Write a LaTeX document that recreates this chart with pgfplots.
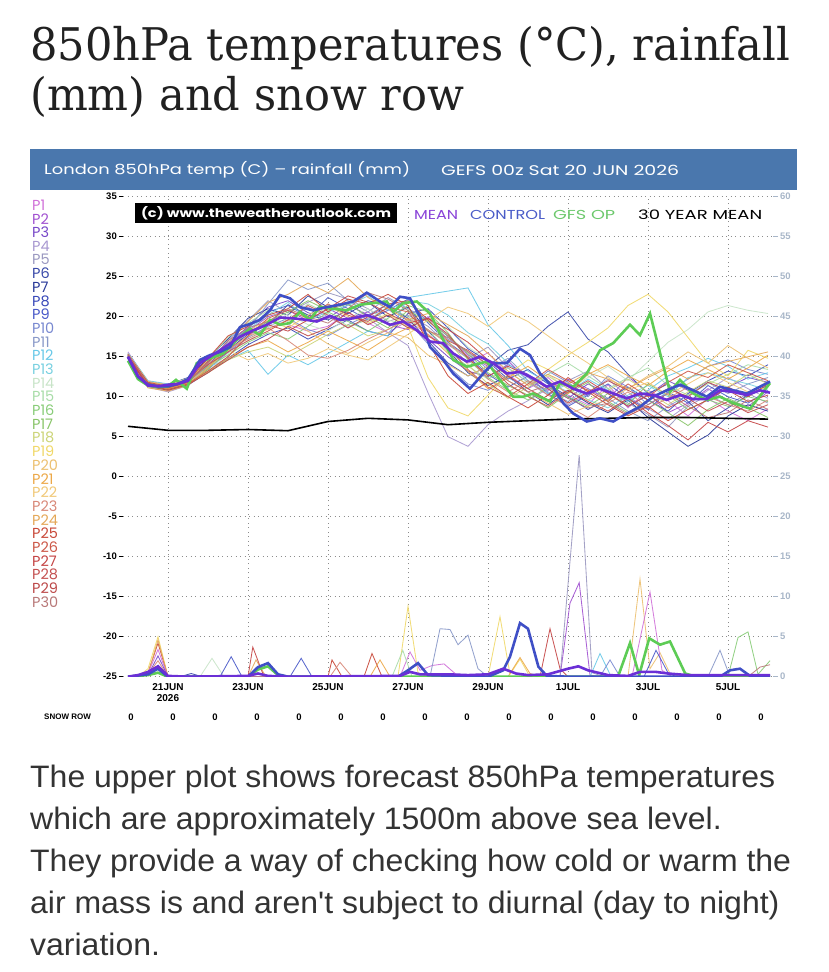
\documentclass[border=0pt]{standalone}
\usepackage{fontspec}
\setmainfont{Liberation Sans}
\newfontfamily\parafont{Liberation Sans}
\newfontfamily\titlefont{DejaVu Serif}
\newfontfamily\gothic{Poppins}
\usepackage{graphicx}
\usepackage{pgfplots}
\pgfplotsset{compat=1.18}

\definecolor{hdr}{HTML}{4A77AD}
\definecolor{rtick}{HTML}{A8B6C8}
\definecolor{cmean}{HTML}{6B2FD6}
\definecolor{cctrl}{HTML}{3F4FC6}
\definecolor{cgfs}{HTML}{5DCC55}
\definecolor{tmean}{HTML}{8A44D8}
\definecolor{tctrl}{HTML}{4A5CC8}
\definecolor{tgfs}{HTML}{6CC86C}
\definecolor{P1}{HTML}{D070D8}
\definecolor{P2}{HTML}{A050D0}
\definecolor{P3}{HTML}{7848C8}
\definecolor{P4}{HTML}{A898D0}
\definecolor{P5}{HTML}{9A98C0}
\definecolor{P6}{HTML}{3848A8}
\definecolor{P7}{HTML}{283898}
\definecolor{P8}{HTML}{3848B8}
\definecolor{P9}{HTML}{4858C8}
\definecolor{P10}{HTML}{7888D0}
\definecolor{P11}{HTML}{8898C8}
\definecolor{P12}{HTML}{68C8E8}
\definecolor{P13}{HTML}{78D0E0}
\definecolor{P14}{HTML}{C8E4C8}
\definecolor{P15}{HTML}{A8DCA8}
\definecolor{P16}{HTML}{88CC78}
\definecolor{P17}{HTML}{88C468}
\definecolor{P18}{HTML}{CCD478}
\definecolor{P19}{HTML}{F0D868}
\definecolor{P20}{HTML}{ECC070}
\definecolor{P21}{HTML}{ECA848}
\definecolor{P22}{HTML}{F0C878}
\definecolor{P23}{HTML}{D88878}
\definecolor{P24}{HTML}{E4A858}
\definecolor{P25}{HTML}{C84838}
\definecolor{P26}{HTML}{CC5848}
\definecolor{P27}{HTML}{C44444}
\definecolor{P28}{HTML}{C45050}
\definecolor{P29}{HTML}{BC4848}
\definecolor{P30}{HTML}{B87878}

\newsavebox\fitbox
\newcommand\fitw[2]{\sbox\fitbox{#2}\pgfmathsetmacro\fitsx{#1/\the\wd\fitbox}\scalebox{\fitsx}[1]{\usebox\fitbox}}
\newsavebox\titlebox
\newsavebox\parabox
\newcommand\pfont{\parafont\fontsize{31}{36}\selectfont}

\pgfplotsset{mem/.style={line width=0.85pt, opacity=0.9}}
\newcommand\mem[2]{\addplot[#1,mem] table[header=false,row sep=\\,y index=0,x expr=\coordindex*0.5]{#2};}

\begin{document}
\sbox\titlebox{\titlefont\fontsize{45}{50}\selectfont 850hPa temperatures (°C), rainfall}%
\pgfmathsetmacro\tsx{760/\the\wd\titlebox}%
\sbox\parabox{\pfont The upper plot shows forecast 850hPa temperatures}%
\pgfmathsetmacro\psx{745/\the\wd\parabox}%
\begin{tikzpicture}
\useasboundingbox (0pt,0pt) rectangle (828pt,-972pt);

\begin{scope}[x=1pt,y=1pt]
% title
\node[anchor=base west, inner sep=0, text=black!87] at (30,-60) {\scalebox{\tsx}[1]{\titlefont\fontsize{45}{50}\selectfont 850hPa temperatures (°C), rainfall}};
\node[anchor=base west, inner sep=0, text=black!87] at (30,-110) {\scalebox{\tsx}[1]{\titlefont\fontsize{45}{50}\selectfont (mm) and snow row}};
% header bar
\fill[hdr] (30,-149) rectangle (797,-190);
\node[anchor=west, inner sep=0, text=white] at (44,-170) {\fitw{366}{\gothic\fontsize{14}{14}\selectfont London 850hPa temp (C) – rainfall (mm)}};
\node[anchor=west, inner sep=0, text=white] at (441,-170) {\fitw{238}{\gothic\fontsize{14}{14}\selectfont GEFS 00z Sat 20 JUN 2026}};
\end{scope}

% temperature axis
\begin{axis}[
  at={(123pt,-676.7pt)}, anchor=south west,
  scale only axis, width=650pt, height=480pt,
  xmin=-0.125, xmax=16.125, ymin=-25, ymax=35,
  axis x line*=bottom, axis y line*=left,
  axis line style={draw=none},
  ytick={-25,-20,...,35},
  xtick={1,3,5,7,9,11,13,15},
  xticklabels={{21JUN\\2026},23JUN,25JUN,27JUN,29JUN,1JUL,3JUL,5JUL},
  xticklabel style={align=center, font=\bfseries\fontsize{10}{10.5}\selectfont, inner sep=1pt, yshift=-2pt},
  yticklabel style={font=\bfseries\fontsize{9.5}{10}\selectfont, inner sep=2pt},
  /pgf/number format/assume math mode=true,
  xtick style={draw=none},
  ytick style={black, line width=1pt},
  tick align=outside,
  major tick length=4pt,
  grid=major,
  major grid style={black!45, dash pattern=on 1.2pt off 3.3pt, line width=0.9pt},
]
\mem{P1}{15.6\\11.8\\11.2\\12.2\\14.5\\16.0\\17.5\\19.5\\19.0\\18.2\\18.8\\20.5\\19.2\\18.0\\19.5\\17.8\\16.0\\14.2\\15.5\\12.8\\11.0\\12.4\\10.2\\9.0\\11.5\\8.6\\10.8\\9.5\\7.6\\9.8\\8.2\\7.0\\8.5\\}
\mem{P2}{15.0\\11.4\\10.9\\11.6\\13.8\\15.5\\18.2\\20.0\\20.8\\19.5\\21.0\\19.8\\20.6\\19.0\\18.4\\20.0\\17.5\\15.2\\13.8\\14.5\\12.0\\10.8\\12.2\\11.0\\9.6\\12.5\\10.5\\8.0\\9.2\\11.0\\9.5\\8.8\\10.6\\}
\mem{P3}{15.3\\11.6\\11.4\\11.9\\14.0\\16.5\\18.8\\21.2\\22.0\\20.5\\19.8\\21.5\\20.2\\21.0\\19.0\\17.2\\15.0\\13.2\\12.5\\14.0\\12.8\\11.2\\9.8\\11.6\\10.4\\8.8\\10.2\\12.0\\10.8\\9.4\\11.2\\12.4\\11.8\\}
\mem{P4}{14.8\\11.2\\10.6\\11.4\\13.2\\15.0\\17.6\\18.5\\19.6\\21.2\\20.0\\18.6\\19.8\\18.0\\16.4\\10.5\\5.0\\3.8\\6.5\\8.2\\9.5\\11.0\\9.0\\10.4\\12.2\\10.0\\8.5\\7.2\\9.0\\10.8\\12.4\\11.0\\9.8\\}
\mem{P5}{15.2\\11.5\\11.0\\12.0\\14.2\\17.0\\19.5\\22.0\\20.5\\21.8\\23.0\\22.2\\21.0\\19.4\\20.2\\18.8\\16.5\\14.8\\16.2\\13.6\\11.8\\10.2\\12.0\\13.2\\11.0\\9.2\\7.8\\6.2\\8.8\\10.2\\9.0\\10.4\\9.2\\}
\mem{P6}{15.1\\11.7\\11.3\\11.8\\13.6\\15.8\\17.8\\19.0\\21.5\\20.2\\19.6\\20.8\\22.0\\21.4\\19.8\\17.0\\14.2\\12.6\\13.8\\15.8\\16.5\\18.8\\20.6\\17.2\\15.6\\12.8\\10.4\\11.6\\9.4\\7.0\\8.6\\10.2\\11.4\\}
\mem{P7}{15.4\\11.9\\11.5\\12.4\\14.8\\17.2\\19.8\\21.0\\20.2\\22.6\\21.2\\20.4\\21.8\\20.0\\21.2\\18.2\\15.8\\13.0\\11.4\\12.6\\10.6\\9.0\\10.8\\9.2\\8.0\\9.6\\7.4\\5.6\\3.8\\5.2\\7.6\\9.0\\8.2\\}
\mem{P8}{14.9\\11.3\\10.8\\11.5\\13.0\\14.8\\16.5\\17.8\\18.6\\17.2\\18.4\\19.6\\18.2\\17.6\\20.4\\21.0\\18.6\\16.0\\14.4\\12.2\\13.4\\11.6\\10.0\\8.4\\9.8\\11.2\\9.6\\8.2\\10.4\\12.0\\13.2\\12.6\\14.0\\}
\mem{P9}{15.2\\11.6\\11.1\\11.8\\14.0\\16.2\\18.6\\20.6\\21.4\\20.0\\22.4\\21.0\\19.6\\20.8\\22.2\\19.2\\16.8\\15.0\\12.8\\11.2\\12.6\\10.4\\8.8\\10.2\\11.6\\9.8\\8.4\\10.6\\9.2\\11.4\\10.0\\9.2\\10.8\\}
\mem{P10}{15.0\\11.4\\11.0\\11.7\\13.4\\15.6\\17.4\\18.8\\19.8\\18.4\\17.6\\19.0\\20.2\\21.6\\19.4\\16.6\\13.8\\11.6\\10.8\\12.4\\11.0\\13.2\\11.8\\10.0\\12.6\\11.2\\9.0\\10.6\\12.2\\13.8\\14.6\\13.4\\12.8\\}
\mem{P11}{15.3\\11.8\\11.2\\12.1\\14.4\\16.8\\18.4\\21.6\\24.6\\23.4\\24.2\\22.0\\20.6\\22.4\\21.0\\19.6\\17.2\\15.6\\13.4\\14.8\\12.4\\10.6\\9.4\\11.0\\9.8\\8.2\\7.0\\8.8\\10.2\\11.8\\10.4\\11.6\\12.4\\}
\mem{P12}{15.5\\12.0\\11.6\\12.3\\13.8\\14.6\\15.8\\12.8\\15.2\\14.0\\15.4\\16.8\\18.2\\17.6\\22.4\\22.8\\23.2\\23.6\\19.0\\16.4\\13.2\\11.8\\10.6\\12.2\\10.8\\9.4\\10.8\\12.6\\13.6\\14.8\\13.8\\12.2\\13.0\\}
\mem{P13}{15.0\\11.6\\11.0\\11.8\\13.6\\16.0\\18.4\\20.2\\21.8\\19.6\\20.6\\21.4\\22.6\\20.8\\22.0\\21.6\\20.2\\18.0\\16.6\\14.2\\12.0\\10.4\\11.6\\9.6\\8.6\\10.2\\11.4\\10.0\\12.4\\13.0\\12.2\\11.6\\10.8\\}
\mem{P14}{14.7\\11.2\\10.8\\11.5\\13.2\\15.4\\17.0\\18.6\\20.4\\19.0\\18.2\\19.8\\21.0\\19.6\\18.8\\17.4\\18.8\\16.2\\14.6\\13.0\\11.6\\12.8\\11.0\\12.4\\13.8\\12.0\\14.4\\16.8\\18.4\\20.6\\21.4\\20.8\\20.4\\}
\mem{P15}{15.1\\11.5\\11.1\\11.9\\14.6\\17.4\\19.2\\20.8\\19.4\\21.6\\20.4\\18.8\\19.6\\21.2\\20.0\\18.4\\15.6\\13.8\\12.2\\13.6\\11.8\\12.8\\14.2\\12.6\\11.0\\12.4\\13.6\\11.4\\10.2\\11.6\\12.8\\14.0\\13.4\\}
\mem{P16}{15.2\\11.7\\11.3\\12.0\\13.8\\15.2\\16.8\\18.0\\17.2\\18.8\\20.6\\19.4\\18.2\\19.8\\21.4\\20.6\\18.0\\14.6\\12.4\\10.8\\9.6\\11.2\\10.0\\8.8\\10.4\\9.0\\11.6\\10.2\\8.4\\9.6\\8.8\\10.0\\9.4\\}
\mem{P17}{15.0\\11.3\\10.9\\11.6\\13.4\\16.4\\18.0\\19.4\\20.6\\22.0\\20.8\\21.6\\20.0\\18.6\\20.8\\19.4\\17.6\\15.4\\13.0\\11.4\\10.2\\8.6\\10.4\\11.8\\9.4\\8.0\\9.6\\8.0\\6.4\\8.4\\9.8\\8.6\\7.4\\}
\mem{P18}{14.9\\11.4\\11.0\\11.6\\13.0\\14.6\\15.6\\16.2\\15.0\\16.4\\17.8\\19.0\\17.6\\18.4\\19.6\\18.2\\17.0\\14.0\\11.6\\9.8\\11.2\\12.6\\11.0\\9.6\\10.8\\12.2\\10.6\\9.0\\10.6\\12.0\\11.2\\12.8\\11.6\\}
\mem{P19}{15.3\\11.8\\11.4\\12.2\\14.2\\16.6\\18.2\\19.6\\18.6\\20.2\\21.4\\20.0\\19.2\\20.4\\18.8\\12.4\\8.6\\7.6\\10.2\\12.8\\14.6\\13.4\\15.2\\16.8\\18.6\\21.4\\22.8\\20.6\\17.4\\14.2\\12.6\\15.8\\14.8\\}
\mem{P20}{15.1\\11.6\\11.1\\11.8\\13.6\\15.8\\17.6\\18.4\\19.6\\18.2\\16.6\\15.4\\16.8\\18.0\\17.4\\15.2\\14.0\\12.6\\13.8\\12.0\\10.6\\9.2\\7.8\\8.8\\9.6\\11.0\\12.6\\13.8\\15.6\\14.2\\16.4\\14.8\\13.6\\}
\mem{P21}{15.0\\11.5\\11.0\\11.7\\13.2\\14.8\\16.2\\17.0\\15.6\\16.8\\18.2\\17.0\\15.8\\17.4\\18.6\\17.8\\15.4\\13.2\\11.0\\12.4\\13.8\\12.0\\10.4\\12.8\\14.0\\12.6\\11.4\\13.2\\14.6\\13.4\\12.2\\13.6\\15.2\\}
\mem{P22}{15.4\\11.9\\11.5\\12.3\\14.6\\15.8\\14.6\\15.4\\14.2\\14.8\\16.0\\15.2\\14.6\\16.2\\17.8\\19.6\\21.2\\20.4\\18.8\\20.6\\19.4\\17.6\\15.8\\14.2\\12.4\\10.8\\11.8\\10.2\\11.6\\13.0\\11.8\\10.6\\11.2\\}
\mem{P23}{15.2\\11.6\\11.2\\11.9\\14.0\\16.0\\17.2\\18.6\\17.0\\15.2\\14.8\\15.8\\17.2\\18.4\\19.8\\18.4\\16.6\\15.0\\12.2\\10.6\\12.0\\10.2\\8.8\\7.4\\9.2\\10.6\\8.6\\9.8\\11.2\\10.0\\9.0\\8.2\\9.6\\}
\mem{P24}{14.8\\11.1\\10.7\\11.4\\13.6\\16.6\\19.4\\21.8\\22.8\\24.2\\23.0\\24.8\\22.4\\21.0\\19.6\\20.4\\19.0\\17.6\\15.4\\13.2\\11.4\\12.8\\11.6\\13.0\\12.2\\11.0\\12.4\\13.6\\12.2\\13.8\\14.4\\15.0\\15.6\\}
\mem{P25}{15.3\\11.7\\11.2\\12.0\\14.8\\17.6\\18.8\\20.2\\21.0\\22.8\\20.6\\22.2\\21.6\\22.8\\21.4\\16.8\\12.6\\10.4\\11.8\\10.0\\8.6\\10.2\\12.4\\10.6\\9.0\\7.6\\8.8\\7.0\\8.4\\9.6\\11.2\\10.0\\11.6\\}
\mem{P26}{15.0\\11.4\\10.9\\11.6\\13.2\\15.0\\17.6\\19.8\\20.8\\19.8\\21.6\\20.2\\19.4\\21.2\\20.6\\17.6\\16.2\\13.4\\11.2\\10.0\\11.6\\13.4\\12.0\\10.8\\9.4\\11.6\\10.0\\11.8\\13.2\\12.4\\14.0\\13.0\\12.0\\}
\mem{P27}{15.1\\11.5\\11.1\\11.8\\14.4\\16.4\\18.0\\19.0\\18.2\\19.6\\21.0\\22.6\\21.8\\20.4\\19.2\\19.8\\18.4\\16.8\\14.6\\12.6\\11.0\\9.6\\10.8\\9.4\\8.2\\9.8\\8.0\\6.4\\4.6\\6.8\\5.6\\7.0\\6.2\\}
\mem{P28}{15.2\\11.8\\11.3\\12.1\\14.0\\15.6\\17.0\\18.2\\19.6\\21.4\\20.2\\18.6\\20.0\\21.6\\22.0\\19.6\\17.0\\15.8\\14.0\\11.6\\10.0\\8.8\\10.6\\12.0\\10.4\\8.8\\10.2\\8.6\\9.8\\8.2\\9.4\\8.0\\9.0\\}
\mem{P29}{14.9\\11.3\\10.8\\11.5\\13.0\\14.6\\16.2\\17.2\\18.8\\17.6\\18.6\\20.6\\19.0\\20.2\\18.6\\19.8\\17.8\\14.8\\12.6\\13.8\\12.6\\11.0\\9.2\\10.6\\12.0\\10.8\\9.6\\11.0\\10.0\\11.8\\10.8\\9.4\\10.2\\}
\mem{P30}{15.3\\11.6\\11.2\\11.9\\14.2\\17.0\\18.6\\19.4\\21.0\\20.0\\19.2\\21.0\\23.0\\22.2\\20.8\\18.2\\17.4\\15.6\\14.0\\12.0\\10.6\\11.4\\9.8\\8.6\\9.2\\7.8\\9.0\\10.4\\8.8\\7.4\\8.0\\9.6\\8.4\\}
% 30 year mean
\addplot[black, line width=1.6pt] coordinates {(0,6.3)(1,5.8)(2,5.8)(3,5.9)(4,5.75)(5,6.9)(6,7.3)(7,7.1)(8,6.5)(9,6.8)(10,7.0)(11,7.2)(12,7.3)(13,7.4)(14,7.4)(15,7.3)(16,7.2)};
% GFS OP
\addplot[cgfs, line width=2.6pt] coordinates {(0,14.5)(0.25,12.2)(0.5,11.4)(0.75,11.2)(1,11.3)(1.2,12.1)(1.47,11.0)(1.72,14.2)(2.05,14.8)(2.38,15.4)(2.72,17.1)(3.05,18.5)(3.3,17.7)(3.55,19.6)(3.8,19.0)(4.05,19.2)(4.3,20.6)(4.55,19.6)(4.8,21.25)(5.13,21.0)(5.47,20.8)(5.8,21.5)(6.13,21.7)(6.47,21.9)(6.63,20.6)(6.88,21.7)(7.22,21.9)(7.55,20.4)(7.88,17.1)(8.13,14.6)(8.47,13.75)(8.97,14.4)(9.3,12.1)(9.63,10.0)(9.88,10.0)(10.13,10.4)(10.55,9.4)(10.8,11.7)(11.13,11.25)(11.47,12.9)(11.8,15.8)(12.13,16.7)(12.55,19.0)(12.8,17.7)(13.05,20.4)(13.55,10.6)(13.8,12.1)(14.13,10.4)(14.47,9.6)(14.8,10.0)(15.13,9.2)(15.55,8.5)(16.05,11.7)};
% control
\addplot[cctrl, line width=2.6pt] coordinates {(0,15.0)(0.25,12.5)(0.5,11.5)(0.75,11.3)(1,11.3)(1.25,11.6)(1.5,12.2)(1.8,14.6)(2.05,15.2)(2.3,15.6)(2.55,16.2)(2.8,18.7)(3.0,19.0)(3.3,19.6)(3.55,20.8)(3.8,22.7)(4.05,22.3)(4.3,21.2)(4.63,20.8)(4.97,21.2)(5.3,21.5)(5.63,21.9)(5.97,23.0)(6.3,21.9)(6.55,21.2)(6.8,22.5)(7.05,22.3)(7.3,20.0)(7.55,16.2)(7.88,14.6)(8.13,12.9)(8.55,11.0)(8.88,12.9)(9.13,14.2)(9.47,14.2)(9.8,16.0)(10.05,15.2)(10.3,12.9)(10.63,11.2)(10.88,9.2)(11.13,7.9)(11.47,6.9)(11.8,7.3)(12.13,6.9)(12.47,7.9)(12.8,8.75)(13.13,10.0)(13.47,10.8)(13.8,11.5)(14.13,10.8)(14.47,10.0)(14.8,11.25)(15.13,10.8)(15.47,10.4)(15.8,11.25)(16.05,11.9)};
% mean
\addplot[cmean, line width=2.6pt] coordinates {(0,15.0)(0.25,12.6)(0.5,11.4)(0.75,11.3)(1,11.5)(1.25,11.6)(1.5,12.0)(1.8,14.2)(2.3,15.8)(2.8,17.5)(3.13,18.3)(3.47,19.0)(3.8,19.9)(4.13,19.8)(4.47,19.6)(4.72,19.4)(5.05,20.1)(5.3,19.6)(5.63,19.8)(5.97,20.2)(6.3,19.6)(6.55,19.0)(6.88,19.4)(7.22,18.3)(7.55,16.9)(7.88,16.7)(8.13,15.4)(8.47,14.4)(8.8,15.0)(9.13,14.2)(9.47,12.9)(9.8,13.1)(10.13,12.3)(10.47,11.25)(10.8,11.9)(11.13,11.0)(11.47,10.4)(11.8,11.0)(12.13,10.4)(12.47,9.8)(12.8,10.4)(13.13,10.2)(13.47,9.6)(13.8,10.2)(14.13,9.7)(14.47,9.7)(14.8,10.8)(15.13,10.6)(15.47,10.2)(15.8,10.8)(16.05,10.5)};
\end{axis}

% rainfall axis (right)
\begin{axis}[
  at={(123pt,-676.7pt)}, anchor=south west,
  scale only axis, width=650pt, height=480pt,
  xmin=-0.125, xmax=16.125, ymin=0, ymax=60,
  axis x line=none, axis y line*=right,
  axis line style={draw=none},
  ytick={0,5,...,60},
  yticklabel style={font=\bfseries\fontsize{9.5}{10}\selectfont, text=rtick, inner sep=2pt},
  /pgf/number format/assume math mode=true,
  ytick style={rtick, line width=1pt},
  tick align=outside,
  major tick length=5pt,
]
\addplot[P19,mem] coordinates {(0.25,0)(0.5,1.0)(0.75,5.0)(1.0,0)(6.75,0)(7.0,8.8)(7.25,0.5)(7.5,0)(9.0,0)(9.3,7.5)(9.55,0.3)(9.8,2.2)(10.05,0)};
\addplot[P20,mem] coordinates {(12.5,0)(12.8,12.2)(13.05,1.0)(13.3,3.0)(13.55,0.4)(13.8,0)};
\addplot[P25,mem] coordinates {(0.5,0.5)(0.75,4.2)(1.0,0)(5.0,0)(5.1,2.1)(5.35,0)(5.9,0)(6.1,2.9)(6.35,0)};
\addplot[P24,mem] coordinates {(0.5,0.3)(0.75,4.6)(1.0,0)(3.0,0)(3.2,2.1)(3.45,0)};
\addplot[P27,mem] coordinates {(3.0,0)(3.12,3.7)(3.4,0)(10.3,0)(10.55,6.0)(10.8,1.0)(11.0,0)};
\addplot[P1,mem] coordinates {(0.5,0.4)(0.75,3.4)(1.0,0)(6.8,0)(7.05,3.1)(7.3,0.8)(7.6,1.4)(7.9,1.6)(8.2,0.3)(8.5,0)(12.6,0)(13.05,10.6)(13.35,0.8)(13.6,0)};
\addplot[P2,mem] coordinates {(10.8,0)(11.05,9.2)(11.28,11.75)(11.55,0.2)(11.8,0)};
\addplot[P5,mem] coordinates {(10.8,0)(11.28,27.7)(11.6,0.5)(11.9,0)};
\addplot[P11,mem] coordinates {(7.55,0)(7.8,6.0)(8.05,5.9)(8.25,4.0)(8.5,5.2)(8.75,1.0)(9.0,0)(14.5,0)(14.8,3.3)(15.05,0)};
\addplot[P14,mem] coordinates {(1.8,0)(2.1,2.3)(2.4,0)};
\addplot[P16,mem] coordinates {(15.0,0)(15.25,4.9)(15.5,5.6)(15.75,0.3)(16.05,2.0)};
\addplot[P9,mem] coordinates {(2.3,0)(2.58,2.5)(2.85,0)(4.05,0)(4.33,2.3)(4.6,0)(12.9,0)(13.2,3.3)(13.5,0.5)(13.7,0)};
\addplot[P6,mem] coordinates {(1.3,0)(1.58,0.4)(1.85,0)};
\addplot[P12,mem] coordinates {(11.55,0)(11.8,2.9)(12.05,0.3)};
\addplot[P10,mem] coordinates {(11.8,0)(12.05,2.1)(12.3,0)};
\addplot[P21,mem] coordinates {(6.05,0)(6.3,2.1)(6.55,0)(9.5,0)(9.8,2.4)(10.05,0.4)(10.3,0)};
\addplot[P15,mem] coordinates {(6.6,0)(6.87,3.3)(7.1,0)};
\addplot[P30,mem] coordinates {(15.5,0)(15.8,1.2)(16.05,1.5)};
\addplot[P3,mem] coordinates {(0.5,0.2)(0.75,2.6)(1.0,0)};
\addplot[P23,mem] coordinates {(0.5,0.3)(0.75,2.0)(1.0,0)(5.05,0)(5.3,1.8)(5.6,0)};
% GFS rain
\addplot[cgfs, line width=2.6pt] coordinates {(0,0)(0.5,0.2)(0.75,0.5)(1,0)(3,0)(3.25,0.9)(3.5,1.3)(3.75,0.2)(4,0)(12.25,0)(12.55,4.2)(12.78,0.2)(13.03,4.8)(13.3,4.0)(13.55,4.4)(13.93,0.4)(14.2,0)(16.05,0)};
% control rain
\addplot[cctrl, line width=2.6pt] coordinates {(0,0)(0.5,0.3)(0.75,1.0)(1,0)(3,0)(3.25,1.2)(3.5,1.7)(3.75,0.3)(4,0)(6.75,0)(7.0,0.8)(7.25,1.7)(7.5,0.2)(9,0)(9.38,0.8)(9.55,2.5)(9.8,6.7)(10.0,6.0)(10.26,1.25)(10.47,0.1)(11,0)(14.8,0)(15.05,0.8)(15.3,1.0)(15.55,0.1)(16.05,0.1)};
% mean rain
\addplot[cmean, line width=2.6pt] coordinates {(0,0)(0.25,0.2)(0.5,0.6)(0.75,1.3)(1.0,0.1)(1.5,0)(3.0,0.1)(3.25,0.4)(3.5,0.1)(4,0)(6.8,0.1)(7.05,0.6)(7.3,0.3)(8,0.3)(8.5,0.2)(9.0,0.3)(9.38,1.0)(9.7,0.4)(10,0.2)(10.5,0.3)(11.0,1.0)(11.26,1.3)(11.5,0.8)(12,0.2)(12.5,0.1)(12.8,0.6)(13.2,0.6)(13.5,0.4)(14,0.2)(15,0.2)(16.05,0.2)};
\end{axis}

\begin{scope}[x=1pt,y=1pt]
% copyright box and legend
\node[fill=black, text=white, inner sep=0, minimum width=262, minimum height=20] at (266,-213) {\fitw{250}{\gothic\bfseries\fontsize{12}{12}\selectfont (c) www.theweatheroutlook.com}};
\node[anchor=west, inner sep=0, text=tmean] at (414,-215) {\fitw{44}{\gothic\fontsize{13}{13}\selectfont MEAN}};
\node[anchor=west, inner sep=0, text=tctrl] at (470,-215) {\fitw{75}{\gothic\fontsize{13}{13}\selectfont CONTROL}};
\node[anchor=west, inner sep=0, text=tgfs] at (553,-215) {\fitw{62}{\gothic\fontsize{13}{13}\selectfont GFS OP}};
\node[anchor=west, inner sep=0, text=black] at (638,-215) {\fitw{124}{\gothic\fontsize{13}{13}\selectfont 30 YEAR MEAN}};
% member labels
\foreach \i in {1,...,30} {
  \node[anchor=west, inner sep=0, text=P\i] at (32,{-205-(\i-1)*13.69}) {\gothic\fontsize{14.5}{14.5}\selectfont P\i};
}
% snow row
\node[anchor=west, inner sep=0] at (44,-717) {\bfseries\fontsize{8}{8}\selectfont SNOW ROW};
\foreach \k in {0,...,15} {
  \node[inner sep=0] at ({131+42*\k},-717) {\bfseries\fontsize{9.5}{9.5}\selectfont 0};
}
% paragraph
\begin{scope}[every node/.style={anchor=base west, inner sep=0, text=black!80}]
\node at (30,-787) {\scalebox{\psx}[1]{\pfont The upper plot shows forecast 850hPa temperatures}};
\node at (30,-829) {\scalebox{\psx}[1]{\pfont which are approximately 1500m above sea level.}};
\node at (30,-871) {\scalebox{\psx}[1]{\pfont They provide a way of checking how cold or warm the}};
\node at (30,-913) {\scalebox{\psx}[1]{\pfont air mass is and aren't subject to diurnal (day to night)}};
\node at (30,-955) {\scalebox{\psx}[1]{\pfont variation.}};
\end{scope}
\end{scope}
\end{tikzpicture}
\end{document}
